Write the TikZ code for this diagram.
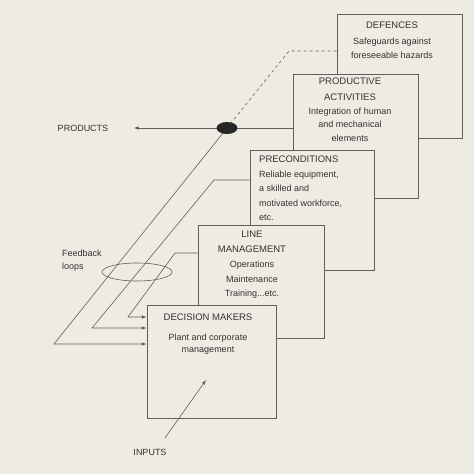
\documentclass[tikz,border=0pt]{standalone}
\usepackage{fontspec}
\setmainfont{Liberation Sans}
\usetikzlibrary{shapes.geometric}
\definecolor{paper}{RGB}{238,235,227}
\definecolor{ink}{RGB}{50,50,50}
\definecolor{rule}{RGB}{95,95,95}
\newcommand{\hd}[1]{{\fontsize{9.5}{14.5}\selectfont #1}}
\begin{document}
\begin{tikzpicture}[x=1pt,y=-1pt]
\tikzstyle{every node}+=[inner sep=0pt]
\tikzstyle{box}=[draw=rule, fill=paper, line width=1pt]
\tikzstyle{lbl}=[text=ink, font=\fontsize{9}{14.5}\selectfont, align=center, anchor=north]
\tikzstyle{wire}=[draw=rule, line width=0.6pt]
\fill [paper] (0,0) rectangle (474,474);
\useasboundingbox (0,0) rectangle (474,474);
% boxes, back to front
\node [box, minimum width=125pt, minimum height=124pt] (def) at (399.5,76) {};
\node [lbl] (deftxt) at (392,22) {\hd{DEFENCES}\\[1pt] Safeguards against\\ foreseeable hazards};
\node [box, minimum width=125pt, minimum height=124pt] (pa) at (355.5,136) {};
\node [lbl] (patxt) at (350,78) {\hd{PRODUCTIVE}\\[1pt] \hd{ACTIVITIES}\\ Integration of human\\[-1.5pt] and mechanical\\[-1pt] elements};
\node [box, minimum width=124pt, minimum height=120pt] (pre) at (312,210) {};
\node [lbl, align=left, anchor=north west] (pretxt) at (259,156) {\hd{PRECONDITIONS}\\ Reliable equipment,\\ a skilled and\\ motivated workforce,\\ etc.};
\node [box, minimum width=126pt, minimum height=113pt] (lm) at (261,281.5) {};
\node [lbl] (lmtxt) at (252,231) {\hd{LINE}\\ \hd{MANAGEMENT}\\[1pt] Operations\\ Maintenance\\ Training...etc.};
\node [box, minimum width=129pt, minimum height=113pt] (dm) at (211.5,361.5) {};
\node [lbl] (dmtxt) at (208,314) {\hd{DECISION MAKERS}\\[5pt] Plant and corporate\\[-2pt] management};
% outside labels
\node [lbl, anchor=center] (prodtxt) at (83,128) {PRODUCTS};
\node [lbl, align=left, anchor=north west] (fbtxt) at (62,250) {Feedback\\[-2pt] loops};
\node [lbl, anchor=center] (inptxt) at (150,452) {INPUTS};
% bends of the loops
\coordinate (prod) at (134,128);
\coordinate (knot) at (227,128);
\coordinate (c1) at (289,51);
\coordinate (c2) at (54,344);
\coordinate (c3) at (214,180);
\coordinate (c4) at (92,328);
\coordinate (c5) at (175,253);
\coordinate (c6) at (128,317);
\coordinate (c7) at (165,438);
\coordinate (c8) at (206,380);
% products
\draw [wire, -latex] (pa.west |- knot) -- (prod);
% defences loop
\draw [wire, dashed] (def.west |- c1) -- (c1) -- (knot);
\draw [wire, -latex] (knot) -- (c2) -- (dm.west |- c2);
\node [fill=black!85, ellipse, minimum width=21pt, minimum height=12pt] (blob) at (knot) {};
% preconditions loop
\draw [wire, -latex] (pre.west |- c3) -- (c3) -- (c4) -- (dm.west |- c4);
% line management loop
\draw [wire, -latex] (lm.west |- c5) -- (c5) -- (c6) -- (dm.west |- c6);
% feedback ellipse
\draw [wire] (137,272) ellipse (35 and 9);
% inputs
\draw [wire, -latex] (c7) -- (c8);
\end{tikzpicture}
\end{document}
